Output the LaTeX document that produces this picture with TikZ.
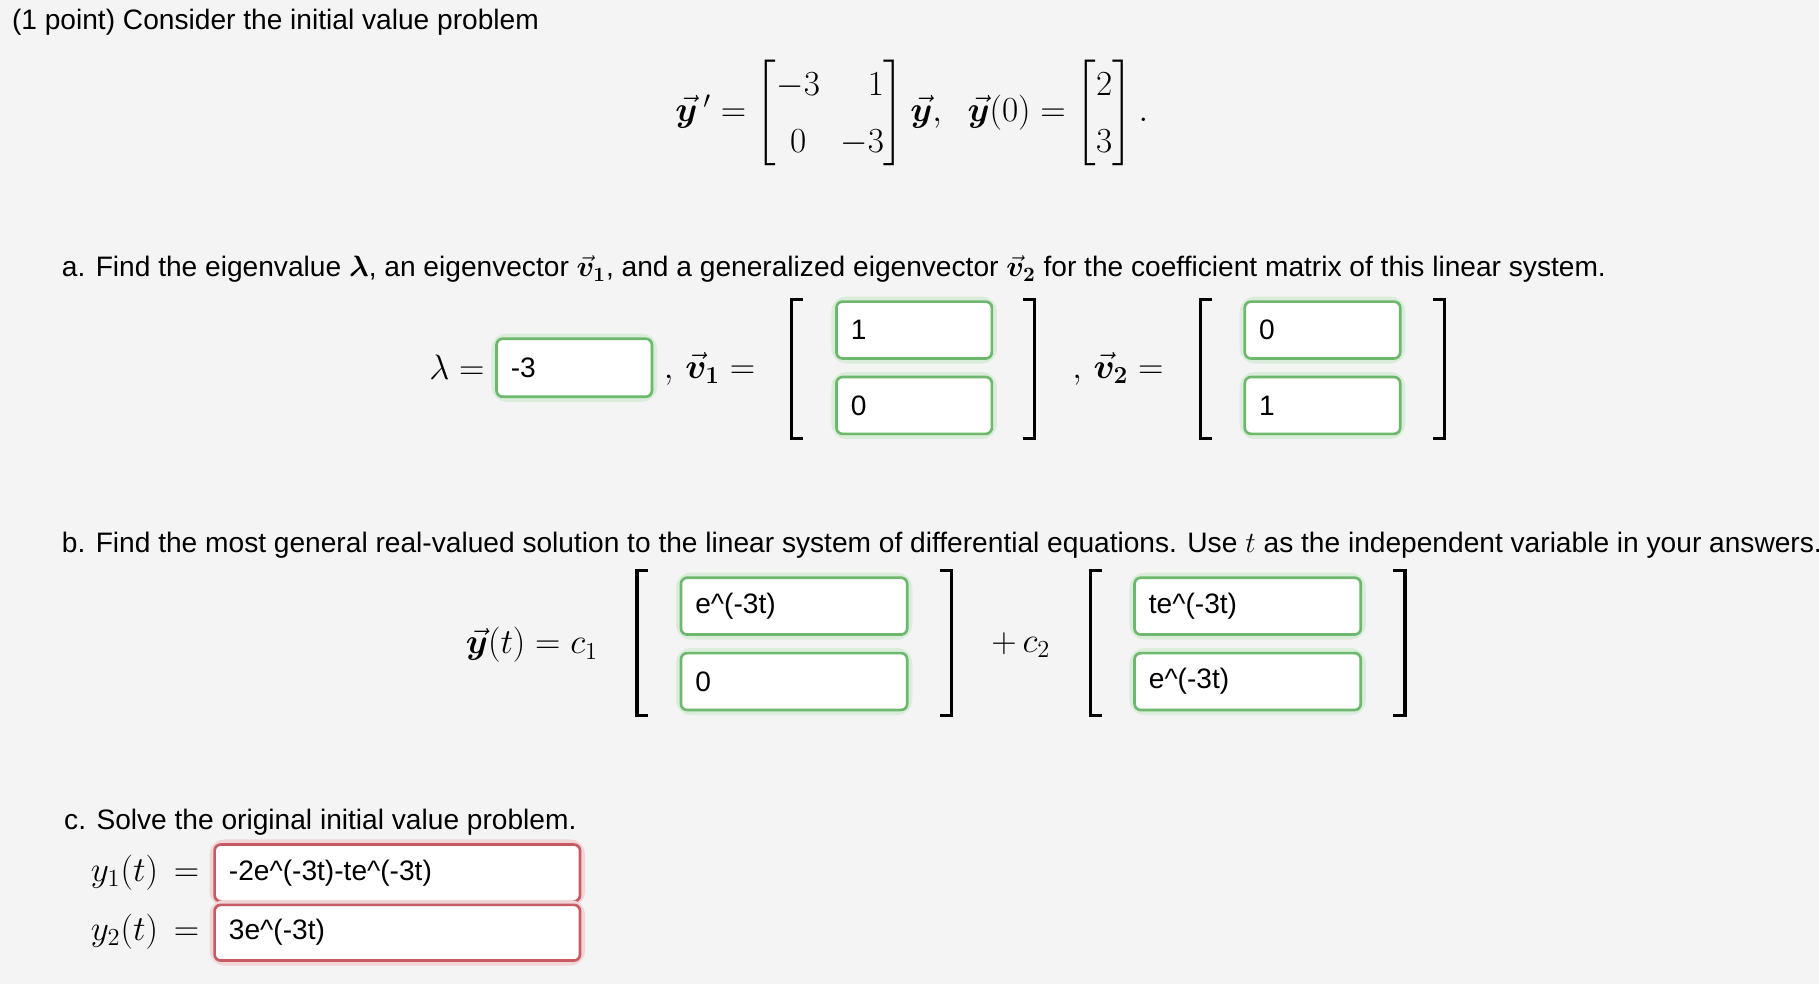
\documentclass[tikz,border=0pt]{standalone}
\usepackage{amsmath,bm}
\usepackage{fontspec}
\setmainfont{Liberation Sans}
\definecolor{bg}{HTML}{F4F4F4}
\definecolor{okg}{HTML}{6DB86D}
\definecolor{badr}{HTML}{C85A64}
\newcommand{\vv}[1]{\vec{\bm{#1}}}
\tikzset{
  txt/.style={anchor=west,inner sep=0pt,font=\fontsize{13.8}{16}\selectfont},
  mth/.style={inner sep=0pt,font=\fontsize{18}{21}\selectfont},
  ansbox/.style={draw=okg,line width=1.3pt,fill=white,rounded corners=3pt},
  badbox/.style={draw=badr,line width=1.3pt,fill=white,rounded corners=3pt},
  glowg/.style={draw=okg!25,line width=5pt,rounded corners=5pt},
  glowr/.style={draw=badr!25,line width=5pt,rounded corners=5pt},
  brk/.style={line width=1.6pt},
}
\newcommand{\abox}[6]{% name, x1,y1,x2,y2, text
  \draw[glowg] (#2,#3) rectangle (#4,#5);
  \draw[ansbox] (#2,#3) rectangle (#4,#5);
  \node[txt] (#1) at ({#2+12},{(#3+#5)/2}) {#6};}
\newcommand{\rbox}[6]{%
  \draw[glowr] (#2,#3) rectangle (#4,#5);
  \draw[badbox] (#2,#3) rectangle (#4,#5);
  \node[txt] (#1) at ({#2+12},{(#3+#5)/2}) {#6};}
\newcommand{\brkt}[5]{% name x1 x2 ytop ybot
  \draw[brk] ({#2+10},#4) -- (#2,#4) -- (#2,#5) -- ({#2+10},#5);
  \draw[brk] ({#3-10},#4) -- (#3,#4) -- (#3,#5) -- ({#3-10},#5);
  \coordinate (#1) at ({(#2+#3)/2},{(#4+#5)/2});}
\begin{document}
\begin{tikzpicture}[x=0.02cm,y=-0.02cm]
\fill[bg] (0,0) rectangle (1568,848);
\useasboundingbox (0,0) rectangle (1568,848);
\node[txt] (title) at (10,19) {(1 point) Consider the initial value problem};
\node[mth,font=\fontsize{17.5}{21}\selectfont] (eq) at (786,97)
  {\renewcommand{\arraystretch}{1.35}$\vv{y}\,'=\begin{bmatrix}-3&\phantom{-}1\\0&-3\end{bmatrix}\vv{y},\;\;\vv{y}(0)=\begin{bmatrix}2\\3\end{bmatrix}.$};
\node[txt] (pa) at (53,232) {a. Find the eigenvalue $\bm{\lambda}$, an eigenvector $\vv{v}_{\bm 1}$, and a generalized eigenvector $\vv{v}_{\bm 2}$ for the coefficient matrix of this linear system.};
\node[mth,anchor=east] (lam) at (418,317) {$\lambda=$};
\abox{lb}{428}{292}{562}{342}{-3}
\node[mth,anchor=west] (v1) at (572,318) {$,\,\vv{v}_{\bm 1}=$};
\brkt{b1}{682}{892}{258}{378}
\abox{v11}{721}{260}{855}{309}{1}
\abox{v12}{721}{325}{855}{374}{0}
\node[mth,anchor=west] (v2) at (924,318) {$,\,\vv{v}_{\bm 2}=$};
\brkt{b2}{1035}{1245}{258}{378}
\abox{v21}{1073}{260}{1207}{309}{0}
\abox{v22}{1073}{325}{1207}{374}{1}
\node[txt] (pb) at (53,470) {b. Find the most general real-valued solution to the linear system of differential equations. Use $t$ as the independent variable in your answers.};
\node[mth,anchor=east] (yt) at (516,556) {$\vv{y}(t)=c_1$};
\brkt{b3}{549}{820}{492}{617}
\abox{s11}{587}{498}{782}{547}{e\^{}(-3t)}
\abox{s12}{587}{563}{782}{612}{0}
\node[mth] (c2) at (880,556) {$+\,c_2$};
\brkt{b4}{940}{1211}{492}{617}
\abox{s21}{978}{498}{1173}{547}{te\^{}(-3t)}
\abox{s22}{978}{563}{1173}{612}{e\^{}(-3t)}
\node[txt] (pc) at (55,709) {c. Solve the original initial value problem.};
\node[mth,anchor=east] (y1) at (172,752) {$y_1(t)\,=$};
\rbox{r1}{185}{728}{500}{777}{-2e\^{}(-3t)-te\^{}(-3t)}
\node[mth,anchor=east] (y2) at (172,803) {$y_2(t)\,=$};
\rbox{r2}{185}{780}{500}{828}{3e\^{}(-3t)}
\end{tikzpicture}
\end{document}
